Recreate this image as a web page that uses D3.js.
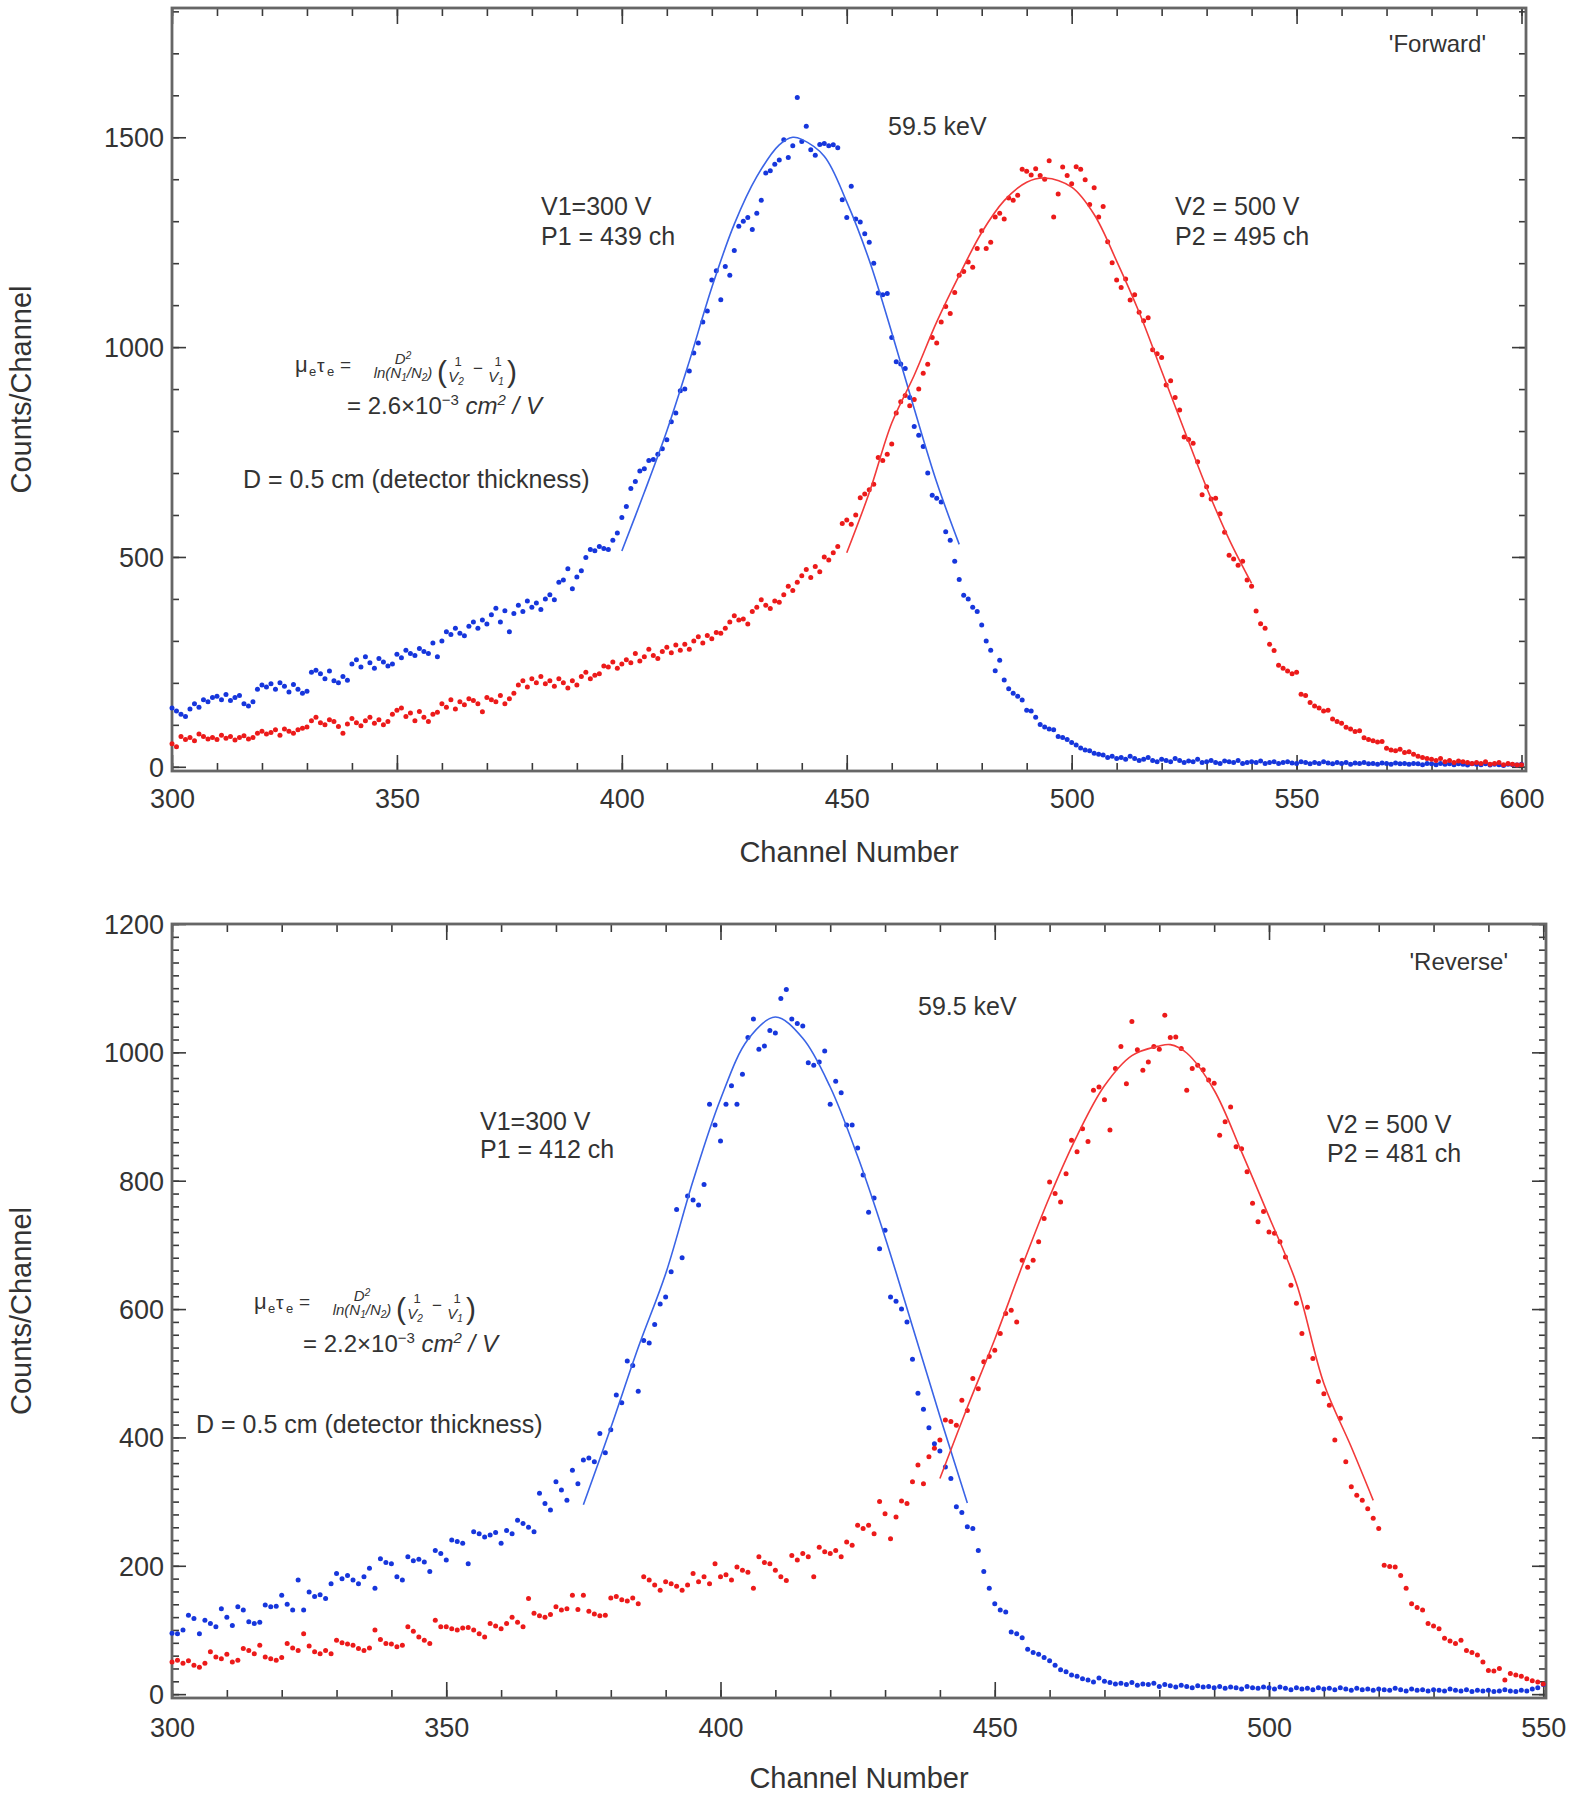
<!DOCTYPE html>
<html>
<head>
<meta charset="utf-8">
<script src="https://cdn.jsdelivr.net/npm/d3@7"></script>
<style>
body { margin: 0; background: #fff; }
svg text { font-family: "Liberation Sans", Arial, Helvetica, sans-serif; fill: #333; }
</style>
</head>
<body>
<svg id="chart" width="1570" height="1795"></svg>
<script>
// ---- 'Forward' panel: counts per channel, channels 300..600 ----
var fwdStart = 300;
var fwdBlue = [
  140,133,125,120,138,150,142,160,155,165, 168,160,172,158,165,170,150,145,155,185,
  195,190,198,185,200,192,178,196,185,175, 180,225,230,222,210,228,205,200,215,206,
  245,255,238,262,248,235,258,250,240,245, 268,260,278,270,265,282,275,270,295,262,
  300,322,315,330,318,312,335,345,330,350, 340,362,378,345,372,322,365,385,370,395,
  380,390,375,400,410,398,440,445,472,424, 452,467,499,518,515,525,520,518,540,557,
  594,620,663,680,705,710,730,732,745,758, 779,822,843,896,900,943,986,1010,1060,1086,
  1160,1182,1113,1192,1171,1230,1288,1300,1309,1280, 1319,1350,1415,1420,1436,1446,1494,1452,1480,1595,
  1490,1526,1470,1457,1483,1485,1480,1482,1475,1351, 1309,1383,1305,1298,1270,1250,1200,1129,1125,1128,
  1023,965,960,949,880,811,790,763,700,647, 640,631,560,540,490,446,409,400,380,370,
  338,300,278,229,254,207,186,175,168,159, 135,133,118,101,95,90,88,72,70,65,
  58,52,45,40,38,32,30,28,22,25, 20,22,18,25,20,15,18,22,15,12,
  18,15,12,20,15,10,14,12,18,10, 12,15,10,8,14,12,10,15,8,10,
  12,10,14,8,10,12,8,10,12,9, 8,12,10,7,10,8,12,9,7,10,
  8,10,6,9,8,10,7,8,6,9, 8,6,9,7,8,6,8,7,5,8,
  7,5,8,6,7,5,7,6,4,7, 6,5,7,4,6,5,3,6,5,4,
  6
];
var fwdRed = [
  55,48,72,65,70,62,78,72,66,70, 65,75,68,72,64,70,74,66,70,80,
  85,78,82,88,75,90,85,80,88,92, 95,110,118,105,100,112,108,96,80,102,
  115,105,98,110,118,104,112,100,108,125, 135,140,120,128,110,132,118,108,125,130,
  150,142,160,138,155,148,162,158,150,131, 165,160,155,170,150,162,175,195,205,190,
  210,200,215,198,205,192,210,200,188,205, 195,215,225,210,218,222,240,238,250,235,
  245,255,248,270,252,262,280,265,258,275, 285,272,290,278,292,280,300,310,295,313,
  305,320,318,330,345,360,350,352,340,370, 380,398,385,377,395,392,410,430,420,440,
  455,470,451,477,465,500,493,510,525,580, 588,578,600,641,650,660,673,737,730,745,
  769,843,870,885,860,875,900,938,959,1023, 1010,1060,1097,1080,1130,1171,1180,1203,1190,1235,
  1277,1235,1250,1310,1319,1305,1355,1350,1362,1424, 1419,1410,1425,1409,1400,1444,1310,1365,1429,1409,
  1389,1430,1424,1399,1340,1380,1310,1335,1251,1201, 1160,1142,1162,1112,1125,1083,1063,1070,994,984,
  975,910,920,880,850,786,780,771,727,648, 667,638,640,603,559,504,495,480,490,445,
  430,371,341,330,292,277,242,235,228,222, 225,173,170,153,145,140,133,135,114,108,
  104,94,90,84,86,69,65,62,59,60, 44,40,38,42,34,36,30,25,22,20,
  18,15,20,12,15,10,14,12,10,8, 10,8,12,6,8,10,5,8,6,4,
  5
];
var fwdBlueFitCh = [400,405,410,415,420,425,430,435,438,440,445,450,455,460,465,470,475];
var fwdBlueFit   = [514,654,800,966,1142,1293,1406,1482,1500,1495,1455,1346,1207,1035,853,678,530];
var fwdRedFitCh  = [450,455,460,465,470,475,480,485,490,494,500,505,510,515,520,525,530,535,540];
var fwdRedFit    = [510,653,819,933,1060,1171,1273,1349,1393,1403,1381,1316,1205,1083,943,803,665,542,437];
var fwdXTicks = [300,350,400,450,500,550,600];
var fwdYTicks = [0,500,1000,1500];

// ---- 'Reverse' panel: channels 300..550 ----
var revStart = 300;
var revBlue = [
  95,94,100,123,118,94,115,110,105,133, 120,107,136,131,113,110,112,139,136,137,
  154,140,131,178,131,159,152,155,149,172, 188,180,185,178,172,183,196,165,211,205,
  203,183,178,214,208,210,206,191,224,219, 209,240,238,235,203,253,250,245,248,252,
  235,255,250,271,266,260,253,313,297,287, 331,318,302,349,328,365,368,362,406,376,
  412,466,454,519,512,472,551,547,576,608, 619,658,755,680,776,770,762,794,919,887,
  862,919,948,919,966,1023,1052,1005,1010,1034, 1030,1084,1098,1052,1045,1041,984,980,985,1002,
  919,955,937,887,887,851,809,751,773,694, 723,619,612,600,580,522,469,444,415,390,
  379,354,336,292,283,261,258,224,191,165, 141,131,128,97,94,88,70,65,62,57,
  52,45,38,35,30,28,24,22,19,25, 20,18,16,17,15,18,14,16,15,17,
  12,15,13,11,14,12,10,13,11,12, 10,12,9,11,10,8,12,10,9,11,
  10,8,11,9,7,10,8,9,7,10, 8,9,7,10,8,6,9,7,8,6,
  8,7,6,9,7,5,8,6,7,5, 7,6,5,8,6,5,7,4,6,5,
  6,4,5,7,5,4,6,5,8,10,
  15
];
var revRed = [
  50,53,48,52,45,42,48,66,58,55, 62,50,53,71,68,63,76,58,55,53,
  57,79,72,68,94,75,66,63,68,63, 84,80,78,76,71,68,72,100,85,79,
  78,74,76,105,98,89,84,79,115,105, 105,102,100,103,104,100,94,89,110,106,
  102,110,120,112,105,149,126,122,120,124, 136,131,133,154,132,154,129,125,122,123,
  150,152,147,145,150,141,183,178,170,162, 175,172,168,162,170,188,175,183,172,203,
  183,186,178,198,193,190,165,214,205,203, 193,183,177,216,209,219,214,183,229,222,
  219,224,214,237,232,263,258,263,250,300, 281,242,276,301,297,331,357,328,370,383,
  396,427,425,419,458,442,492,476,518,526, 536,562,593,598,580,676,665,676,705,741,
  798,780,767,811,863,845,881,861,941,946, 926,879,975,1009,951,1048,1004,972,985,1009,
  1005,1058,1023,1024,1006,941,975,980,973,957, 952,871,892,915,853,850,814,765,736,752,
  720,718,705,681,637,609,562,603,523,487, 468,450,396,430,362,323,310,302,289,274,
  258,201,199,198,185,165,141,135,131,110, 106,102,87,83,79,84,68,65,61,50,
  37,36,40,22,32,30,28,24,21,19,
  16
];
var revBlueFitCh = [375,380,385,390,395,400,405,410,415,420,425,430,435,440,445];
var revBlueFit   = [295,415,540,655,800,927,1020,1055,1022,946,838,712,573,433,298];
var revRedFitCh  = [440,445,450,455,460,465,470,475,480,482,485,490,495,500,505,510,515,519];
var revRedFit    = [336,447,553,667,775,870,948,995,1010,1012,999,941,845,744,640,484,385,302];
var revXTicks = [300,350,400,450,500,550];
var revYTicks = [0,200,400,600,800,1000,1200];

var BLUE = '#1636dc', BLUE_LINE = '#3a64e6';
var RED = '#ec1a1a', RED_LINE = '#f23a3a';

var svg = d3.select('#chart');

function label(g, x, y, txt, size, anchor) {
  return g.append('text').attr('x', x).attr('y', y)
    .attr('font-size', size).attr('text-anchor', anchor || 'start').text(txt);
}

function drawPanel(p) {
  var g = svg.append('g');
  var x = d3.scaleLinear().domain(p.xDomain).range([p.left, p.right]);
  var y = d3.scaleLinear().domain(p.yDomain).range([p.bottom, p.top]);

  var minorX = d3.range(p.xTicks[0], p.xDomain[1] + 0.01, 10);
  var minorY = d3.range(0, p.yDomain[1] + 0.01, p.yMinor);

  function axes(axisFn, pos, scale, vals, len, withText) {
    var a = axisFn(scale).tickValues(vals).tickSize(-len).tickSizeOuter(0)
      .tickFormat(withText ? d3.format('d') : '');
    var ag = g.append('g').attr('transform', pos).call(a);
    ag.select('.domain').remove();
    ag.attr('font-family', null).attr('font-size', null);
    ag.selectAll('line').attr('stroke', '#3a3a3a').attr('stroke-width', 1.6);
    return ag;
  }
  var bt = 'translate(0,' + p.bottom + ')', tp = 'translate(0,' + p.top + ')';
  var lf = 'translate(' + p.left + ',0)', rt = 'translate(' + p.right + ',0)';
  axes(d3.axisBottom, bt, x, minorX, 8);
  axes(d3.axisTop, tp, x, minorX, 8);
  axes(d3.axisLeft, lf, y, minorY, 7);
  axes(d3.axisRight, rt, y, minorY, 7);
  axes(d3.axisTop, tp, x, p.xTicks, 16);
  axes(d3.axisRight, rt, y, p.yTicks, 14);

  var xb = axes(d3.axisBottom, bt, x, p.xTicks, 16, true);
  xb.selectAll('text').attr('font-size', 27).attr('fill', '#333')
    .attr('y', p.xLabelY - p.bottom).attr('dy', null);

  var yl = axes(d3.axisLeft, lf, y, p.yTicks, 14, true);
  yl.selectAll('text').attr('font-size', 27).attr('fill', '#333')
    .attr('x', -8).attr('dy', '0.35em');

  g.append('rect')
    .attr('x', p.left).attr('y', p.top)
    .attr('width', p.right - p.left).attr('height', p.bottom - p.top)
    .attr('fill', 'none').attr('stroke', '#666').attr('stroke-width', 2.8);

  // data points
  [[p.blue, BLUE], [p.red, RED]].forEach(function (s) {
    g.append('g').attr('fill', s[1]).selectAll('circle').data(s[0]).join('circle')
      .attr('cx', function (d, i) { return x(p.start + i); })
      .attr('cy', function (d) { return y(d); })
      .attr('r', 2.5);
  });

  // Gaussian fits
  [[p.blueFitCh, p.blueFit, BLUE_LINE], [p.redFitCh, p.redFit, RED_LINE]].forEach(function (f) {
    var line = d3.line()
      .x(function (d, i) { return x(f[0][i]); })
      .y(function (d) { return y(d); })
      .curve(d3.curveCatmullRom.alpha(0.5));
    g.append('path').datum(f[1]).attr('d', line)
      .attr('fill', 'none').attr('stroke', f[2]).attr('stroke-width', 1.6);
  });

  // axis titles
  label(g, (p.left + p.right) / 2, p.xTitleY, 'Channel Number', 29, 'middle');
  g.append('text')
    .attr('transform', 'translate(31,' + ((p.top + p.bottom) / 2) + ') rotate(-90)')
    .attr('text-anchor', 'middle').attr('font-size', 29).text('Counts/Channel');

  return g;
}

function formula(x0, y0, dx2, dy2, value) {
  var f = svg.append('g').attr('transform', 'translate(' + x0 + ',' + y0 + ')');
  label(f, 0, 0, 'μ', 22);
  label(f, 14, 4, 'e', 13);
  label(f, 22, 0, 'τ', 19);
  label(f, 32, 4, 'e', 13);
  label(f, 45, -1, '=', 19);
  var num = label(f, 108, -8, '', 15, 'middle').attr('font-style', 'italic');
  num.append('tspan').text('D');
  num.append('tspan').attr('dy', -5).attr('font-size', 10).text('2');
  var den = label(f, 108, 6, '', 15, 'middle').attr('font-style', 'italic');
  den.append('tspan').text('ln(N');
  den.append('tspan').attr('dy', 3).attr('font-size', 10).text('1');
  den.append('tspan').attr('dy', -3).text('/N');
  den.append('tspan').attr('dy', 3).attr('font-size', 10).text('2');
  den.append('tspan').attr('dy', -3).text(')');
  label(f, 142, 10, '(', 30);
  label(f, 163, -6, '1', 13, 'middle');
  var v2 = label(f, 161, 10, '', 15, 'middle').attr('font-style', 'italic');
  v2.append('tspan').text('V');
  v2.append('tspan').attr('dy', 3).attr('font-size', 10).text('2');
  label(f, 183, 2, '−', 17, 'middle');
  label(f, 203, -6, '1', 13, 'middle');
  var v1 = label(f, 201, 10, '', 15, 'middle').attr('font-style', 'italic');
  v1.append('tspan').text('V');
  v1.append('tspan').attr('dy', 3).attr('font-size', 10).text('1');
  label(f, 212, 10, ')', 30);

  var l2 = label(f, dx2, dy2, '', 24);
  l2.append('tspan').text('= ' + value + '×10');
  l2.append('tspan').attr('dy', -9).attr('font-size', 15).text('−3');
  l2.append('tspan').attr('dy', 9).attr('font-style', 'italic').text(' cm');
  l2.append('tspan').attr('dy', -9).attr('font-size', 15).attr('font-style', 'italic').text('2');
  l2.append('tspan').attr('dy', 9).attr('font-style', 'italic').text(' / V');
}

// ---- top panel ----
var panelFwd = drawPanel({
  left: 172, right: 1526, top: 8, bottom: 771,
  xDomain: [300, 601], yDomain: [-10, 1808], yMinor: 100,
  xTicks: fwdXTicks, yTicks: fwdYTicks,
  start: fwdStart, blue: fwdBlue, red: fwdRed,
  blueFitCh: fwdBlueFitCh, blueFit: fwdBlueFit, redFitCh: fwdRedFitCh, redFit: fwdRedFit,
  xLabelY: 808, xTitleY: 862
});
label(panelFwd, 1486, 52, "'Forward'", 24, 'end');
label(panelFwd, 888, 135, '59.5 keV', 25);
label(panelFwd, 541, 215, 'V1=300 V', 25);
label(panelFwd, 541, 245, 'P1 = 439 ch', 25);
label(panelFwd, 1175, 215, 'V2 = 500 V', 25);
label(panelFwd, 1175, 245, 'P2 = 495 ch', 25);
label(panelFwd, 243, 488, 'D = 0.5 cm (detector thickness)', 25);
formula(295, 372, 52, 42, '2.6');

// ---- bottom panel ----
var panelRev = drawPanel({
  left: 172, right: 1546, top: 924, bottom: 1698,
  xDomain: [300, 550.5], yDomain: [-6, 1200], yMinor: 20,
  xTicks: revXTicks, yTicks: revYTicks,
  start: revStart, blue: revBlue, red: revRed,
  blueFitCh: revBlueFitCh, blueFit: revBlueFit, redFitCh: revRedFitCh, redFit: revRedFit,
  xLabelY: 1737, xTitleY: 1788
});
label(panelRev, 1508, 970, "'Reverse'", 24, 'end');
label(panelRev, 918, 1015, '59.5 keV', 25);
label(panelRev, 480, 1130, 'V1=300 V', 25);
label(panelRev, 480, 1158, 'P1 = 412 ch', 25);
label(panelRev, 1327, 1133, 'V2 = 500 V', 25);
label(panelRev, 1327, 1162, 'P2 = 481 ch', 25);
label(panelRev, 196, 1433, 'D = 0.5 cm (detector thickness)', 25);
formula(254, 1309, 49, 43, '2.2');
</script>
</body>
</html>
